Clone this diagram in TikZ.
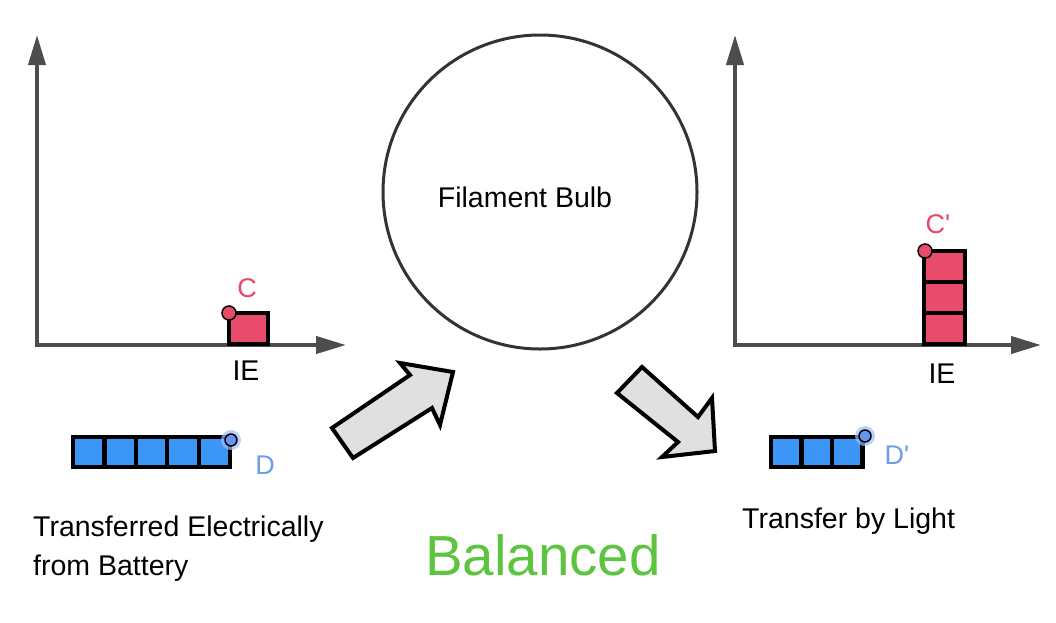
\documentclass[tikz,border=0pt]{standalone}
\usepackage{fontspec}
\setmainfont{Liberation Sans}
\usetikzlibrary{arrows.meta}
\definecolor{axisgray}{RGB}{77,77,77}
\definecolor{barred}{RGB}{233,75,108}
\definecolor{labred}{RGB}{232,72,105}
\definecolor{barblue}{RGB}{59,150,245}
\definecolor{labblue}{RGB}{109,158,235}
\definecolor{halo}{RGB}{160,190,245}
\definecolor{okgreen}{RGB}{92,196,62}
\definecolor{arrowfill}{RGB}{224,224,224}
\begin{document}
\begin{tikzpicture}[x=1pt,y=-1pt,
  axis/.style={draw=axisgray,line width=4pt,-{Triangle[length=30pt,width=17pt]}},
  redcell/.style={fill=barred,draw=black,line width=4.2pt},
  bluecell/.style={fill=barblue,draw=black,line width=4.2pt},
  reddot/.style={circle,fill=barred,draw=black,line width=1.5pt,minimum size=14pt,inner sep=0pt},
  bluedot/.style={circle,fill={rgb,255:red,100;green,150;blue,240},draw=black,line width=1.5pt,minimum size=12pt,inner sep=0pt},
  halodot/.style={circle,fill=halo,fill opacity=0.7,minimum size=20pt,inner sep=0pt},
  txt/.style={font=\fontsize{28.5}{34}\selectfont,inner sep=0pt},
  lbl/.style={font=\fontsize{27}{32}\selectfont,inner sep=0pt},
  bigarrow/.style={fill=arrowfill,draw=black,line width=4pt,line join=miter}]
\useasboundingbox (0,0) rectangle (1056,622);

% left axes
\coordinate (ly) at (37,35);
\coordinate (lx) at (346,345);
\draw[axis] (37,347) -- (ly);
\draw[axis] (35,345) -- (lx);

% right axes
\coordinate (ry) at (735,35);
\coordinate (rx) at (1041,345);
\draw[axis] (735,347) -- (ry);
\draw[axis] (733,345) -- (rx);

% left red bar (C)
\draw[redcell] (229,313) rectangle (268,344);
\node[reddot] (cdot) at (229,313) {};
\node[lbl,text=labred,anchor=base] (clab) at (247,297) {C};
\node[txt,anchor=base] (ie1) at (246,380) {IE};

% right red stack (C')
\draw[redcell] (924,251) rectangle (965,282);
\draw[redcell] (924,282) rectangle (965,313);
\draw[redcell] (924,313) rectangle (965,344);
\node[reddot] (cpdot) at (925,251) {};
\node[lbl,text=labred,anchor=base] (cplab) at (938,233) {C\textquotesingle};
\node[txt,anchor=base] (ie2) at (942,383) {IE};

% left blue bar (D)
\foreach \i in {0,...,4} {
  \draw[bluecell] ({73+31.4*\i},437) rectangle ({73+31.4*(\i+1)},467);
}
\node[halodot] at (231,440) {};
\node[bluedot] (ddot) at (231,440) {};
\node[lbl,text=labblue,anchor=base] (dlab) at (265,474) {D};

% right blue bar (D')
\foreach \i in {0,...,2} {
  \draw[bluecell] ({771+30.5*\i},437) rectangle ({771+30.5*(\i+1)},467);
}
\node[halodot] at (865,436) {};
\node[bluedot] (dpdot) at (865,436) {};
\node[lbl,text=labblue,anchor=base] (dplab) at (897,464) {D\textquotesingle};

% bulb
\node[circle,draw={rgb,255:red,51;green,51;blue,51},line width=3pt,minimum size=314pt,inner sep=0pt] (bulb) at (540,192) {};
\node[txt,anchor=base] (bulblab) at (525,207) {Filament Bulb};

% big arrows
\draw[bigarrow] (332,428) -- (410,375) -- (400,363) -- (453,372) -- (440,425) -- (432,408) -- (353,458) -- cycle;
\draw[bigarrow] (642,367) -- (698,417) -- (712,398) -- (715,451) -- (662,457) -- (678,442) -- (617,393) -- cycle;

% texts
\node[txt,anchor=base west] (t1) at (33,536) {Transferred Electrically};
\node[txt,anchor=base west] (t2) at (33,575) {from Battery};
\node[txt,anchor=base west] (t3) at (742,528) {Transfer by Light};
\node[inner sep=0pt,anchor=base,text=okgreen,font=\fontsize{56.5}{62}\selectfont] (bal) at (543,575) {Balanced};
\end{tikzpicture}
\end{document}
